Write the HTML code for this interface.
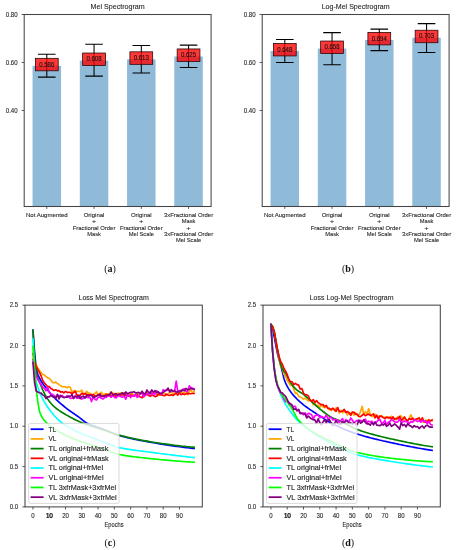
<!DOCTYPE html>
<html><head><meta charset="utf-8"><style>
html,body{margin:0;padding:0;background:#fff;width:456px;height:550px;overflow:hidden}
svg{display:block;filter:blur(0.4px)}
</style></head><body>
<svg width="456" height="550" viewBox="0 0 456 550">
<rect width="456" height="550" fill="#fff"/>
<text x="117.65" y="8.90" font-size="7.2" text-anchor="middle" fill="#262626" font-family='"Liberation Sans", sans-serif' font-weight="normal" textLength="54.28" lengthAdjust="spacingAndGlyphs" stroke="#262626" stroke-width="0.1">Mel Spectrogram</text>
<rect x="32.55" y="65.86" width="28.50" height="140.64" fill="#8fbbd9"/>
<rect x="79.80" y="60.58" width="28.50" height="145.92" fill="#8fbbd9"/>
<rect x="127.05" y="59.38" width="28.50" height="147.12" fill="#8fbbd9"/>
<rect x="174.30" y="56.50" width="28.50" height="150.00" fill="#8fbbd9"/>
<path d="M46.80 54.20V77.10M38.00 54.20H55.60M38.00 77.10H55.60" stroke="#000" stroke-width="1.05" fill="none"/>
<path d="M94.05 44.30V76.10M85.25 44.30H102.85M85.25 76.10H102.85" stroke="#000" stroke-width="1.05" fill="none"/>
<path d="M141.30 45.50V72.90M132.50 45.50H150.10M132.50 72.90H150.10" stroke="#000" stroke-width="1.05" fill="none"/>
<path d="M188.55 45.10V67.40M179.75 45.10H197.35M179.75 67.40H197.35" stroke="#000" stroke-width="1.05" fill="none"/>
<rect x="35.40" y="58.31" width="22.8" height="12.5" fill="#ff0000" fill-opacity="0.78" stroke="#200" stroke-width="0.75"/>
<text x="46.80" y="66.56" font-size="6.5" text-anchor="middle" fill="#111" font-family='"Liberation Sans", sans-serif' font-weight="normal" textLength="15.17" lengthAdjust="spacingAndGlyphs" stroke="#111" stroke-width="0.1">0.586</text>
<rect x="82.65" y="53.03" width="22.8" height="12.5" fill="#ff0000" fill-opacity="0.78" stroke="#200" stroke-width="0.75"/>
<text x="94.05" y="61.28" font-size="6.5" text-anchor="middle" fill="#111" font-family='"Liberation Sans", sans-serif' font-weight="normal" textLength="15.17" lengthAdjust="spacingAndGlyphs" stroke="#111" stroke-width="0.1">0.608</text>
<rect x="129.90" y="51.83" width="22.8" height="12.5" fill="#ff0000" fill-opacity="0.78" stroke="#200" stroke-width="0.75"/>
<text x="141.30" y="60.08" font-size="6.5" text-anchor="middle" fill="#111" font-family='"Liberation Sans", sans-serif' font-weight="normal" textLength="15.17" lengthAdjust="spacingAndGlyphs" stroke="#111" stroke-width="0.1">0.613</text>
<rect x="177.15" y="48.95" width="22.8" height="12.5" fill="#ff0000" fill-opacity="0.78" stroke="#200" stroke-width="0.75"/>
<text x="188.55" y="57.20" font-size="6.5" text-anchor="middle" fill="#111" font-family='"Liberation Sans", sans-serif' font-weight="normal" textLength="15.17" lengthAdjust="spacingAndGlyphs" stroke="#111" stroke-width="0.1">0.625</text>
<rect x="24.2" y="14.5" width="186.9" height="192.0" fill="none" stroke="#454545" stroke-width="1.05"/>
<path d="M21.60 14.50H24.20" stroke="#454545" stroke-width="0.9"/>
<text x="17.60" y="16.55" font-size="6.5" text-anchor="end" fill="#262626" font-family='"Liberation Sans", sans-serif' font-weight="normal" textLength="11.8" lengthAdjust="spacingAndGlyphs" stroke="#262626" stroke-width="0.1">0.80</text>
<path d="M21.60 62.50H24.20" stroke="#454545" stroke-width="0.9"/>
<text x="17.60" y="64.55" font-size="6.5" text-anchor="end" fill="#262626" font-family='"Liberation Sans", sans-serif' font-weight="normal" textLength="11.8" lengthAdjust="spacingAndGlyphs" stroke="#262626" stroke-width="0.1">0.60</text>
<path d="M21.60 110.50H24.20" stroke="#454545" stroke-width="0.9"/>
<text x="17.60" y="112.55" font-size="6.5" text-anchor="end" fill="#262626" font-family='"Liberation Sans", sans-serif' font-weight="normal" textLength="11.8" lengthAdjust="spacingAndGlyphs" stroke="#262626" stroke-width="0.1">0.40</text>
<path d="M46.80 206.50V208.90" stroke="#454545" stroke-width="0.9"/>
<text x="46.80" y="217.40" font-size="6.1" text-anchor="middle" fill="#262626" font-family='"Liberation Sans", sans-serif' font-weight="normal" textLength="41.81" lengthAdjust="spacingAndGlyphs" stroke="#262626" stroke-width="0.1">Not Augmented</text>
<path d="M94.05 206.50V208.90" stroke="#454545" stroke-width="0.9"/>
<text x="94.05" y="217.40" font-size="6.1" text-anchor="middle" fill="#262626" font-family='"Liberation Sans", sans-serif' font-weight="normal" textLength="20.74" lengthAdjust="spacingAndGlyphs" stroke="#262626" stroke-width="0.1">Original</text>
<text x="94.05" y="223.45" font-size="6.1" text-anchor="middle" fill="#262626" font-family='"Liberation Sans", sans-serif' font-weight="normal" textLength="4.44" lengthAdjust="spacingAndGlyphs" stroke="#262626" stroke-width="0.1">+</text>
<text x="94.05" y="229.50" font-size="6.1" text-anchor="middle" fill="#262626" font-family='"Liberation Sans", sans-serif' font-weight="normal" textLength="42.62" lengthAdjust="spacingAndGlyphs" stroke="#262626" stroke-width="0.1">Fractional Order</text>
<text x="94.05" y="235.55" font-size="6.1" text-anchor="middle" fill="#262626" font-family='"Liberation Sans", sans-serif' font-weight="normal" textLength="13.65" lengthAdjust="spacingAndGlyphs" stroke="#262626" stroke-width="0.1">Mask</text>
<path d="M141.30 206.50V208.90" stroke="#454545" stroke-width="0.9"/>
<text x="141.30" y="217.40" font-size="6.1" text-anchor="middle" fill="#262626" font-family='"Liberation Sans", sans-serif' font-weight="normal" textLength="20.74" lengthAdjust="spacingAndGlyphs" stroke="#262626" stroke-width="0.1">Original</text>
<text x="141.30" y="223.45" font-size="6.1" text-anchor="middle" fill="#262626" font-family='"Liberation Sans", sans-serif' font-weight="normal" textLength="4.44" lengthAdjust="spacingAndGlyphs" stroke="#262626" stroke-width="0.1">+</text>
<text x="141.30" y="229.50" font-size="6.1" text-anchor="middle" fill="#262626" font-family='"Liberation Sans", sans-serif' font-weight="normal" textLength="42.62" lengthAdjust="spacingAndGlyphs" stroke="#262626" stroke-width="0.1">Fractional Order</text>
<text x="141.30" y="235.55" font-size="6.1" text-anchor="middle" fill="#262626" font-family='"Liberation Sans", sans-serif' font-weight="normal" textLength="25.25" lengthAdjust="spacingAndGlyphs" stroke="#262626" stroke-width="0.1">Mel Scale</text>
<path d="M188.55 206.50V208.90" stroke="#454545" stroke-width="0.9"/>
<text x="188.55" y="217.40" font-size="6.1" text-anchor="middle" fill="#262626" font-family='"Liberation Sans", sans-serif' font-weight="normal" textLength="49.13" lengthAdjust="spacingAndGlyphs" stroke="#262626" stroke-width="0.1">3xFractional Order</text>
<text x="188.55" y="223.45" font-size="6.1" text-anchor="middle" fill="#262626" font-family='"Liberation Sans", sans-serif' font-weight="normal" textLength="13.65" lengthAdjust="spacingAndGlyphs" stroke="#262626" stroke-width="0.1">Mask</text>
<text x="188.55" y="229.50" font-size="6.1" text-anchor="middle" fill="#262626" font-family='"Liberation Sans", sans-serif' font-weight="normal" textLength="4.44" lengthAdjust="spacingAndGlyphs" stroke="#262626" stroke-width="0.1">+</text>
<text x="188.55" y="235.55" font-size="6.1" text-anchor="middle" fill="#262626" font-family='"Liberation Sans", sans-serif' font-weight="normal" textLength="49.13" lengthAdjust="spacingAndGlyphs" stroke="#262626" stroke-width="0.1">3xFractional Order</text>
<text x="188.55" y="241.60" font-size="6.1" text-anchor="middle" fill="#262626" font-family='"Liberation Sans", sans-serif' font-weight="normal" textLength="25.25" lengthAdjust="spacingAndGlyphs" stroke="#262626" stroke-width="0.1">Mel Scale</text>
<text x="355.65" y="8.90" font-size="7.2" text-anchor="middle" fill="#262626" font-family='"Liberation Sans", sans-serif' font-weight="normal" textLength="67.93" lengthAdjust="spacingAndGlyphs" stroke="#262626" stroke-width="0.1">Log-Mel Spectrogram</text>
<rect x="270.55" y="50.98" width="28.50" height="155.52" fill="#8fbbd9"/>
<rect x="317.80" y="48.58" width="28.50" height="157.92" fill="#8fbbd9"/>
<rect x="365.05" y="39.94" width="28.50" height="166.56" fill="#8fbbd9"/>
<rect x="412.30" y="37.78" width="28.50" height="168.72" fill="#8fbbd9"/>
<path d="M284.80 39.50V62.50M276.00 39.50H293.60M276.00 62.50H293.60" stroke="#000" stroke-width="1.05" fill="none"/>
<path d="M332.05 32.60V64.80M323.25 32.60H340.85M323.25 64.80H340.85" stroke="#000" stroke-width="1.05" fill="none"/>
<path d="M379.30 29.10V50.60M370.50 29.10H388.10M370.50 50.60H388.10" stroke="#000" stroke-width="1.05" fill="none"/>
<path d="M426.55 23.60V52.40M417.75 23.60H435.35M417.75 52.40H435.35" stroke="#000" stroke-width="1.05" fill="none"/>
<rect x="273.40" y="43.43" width="22.8" height="12.5" fill="#ff0000" fill-opacity="0.78" stroke="#200" stroke-width="0.75"/>
<text x="284.80" y="51.68" font-size="6.5" text-anchor="middle" fill="#111" font-family='"Liberation Sans", sans-serif' font-weight="normal" textLength="15.17" lengthAdjust="spacingAndGlyphs" stroke="#111" stroke-width="0.1">0.648</text>
<rect x="320.65" y="41.03" width="22.8" height="12.5" fill="#ff0000" fill-opacity="0.78" stroke="#200" stroke-width="0.75"/>
<text x="332.05" y="49.28" font-size="6.5" text-anchor="middle" fill="#111" font-family='"Liberation Sans", sans-serif' font-weight="normal" textLength="15.17" lengthAdjust="spacingAndGlyphs" stroke="#111" stroke-width="0.1">0.658</text>
<rect x="367.90" y="32.39" width="22.8" height="12.5" fill="#ff0000" fill-opacity="0.78" stroke="#200" stroke-width="0.75"/>
<text x="379.30" y="40.64" font-size="6.5" text-anchor="middle" fill="#111" font-family='"Liberation Sans", sans-serif' font-weight="normal" textLength="15.17" lengthAdjust="spacingAndGlyphs" stroke="#111" stroke-width="0.1">0.694</text>
<rect x="415.15" y="30.23" width="22.8" height="12.5" fill="#ff0000" fill-opacity="0.78" stroke="#200" stroke-width="0.75"/>
<text x="426.55" y="38.48" font-size="6.5" text-anchor="middle" fill="#111" font-family='"Liberation Sans", sans-serif' font-weight="normal" textLength="15.17" lengthAdjust="spacingAndGlyphs" stroke="#111" stroke-width="0.1">0.703</text>
<rect x="262.2" y="14.5" width="186.90000000000003" height="192.0" fill="none" stroke="#454545" stroke-width="1.05"/>
<path d="M259.60 14.50H262.20" stroke="#454545" stroke-width="0.9"/>
<text x="255.60" y="16.55" font-size="6.5" text-anchor="end" fill="#262626" font-family='"Liberation Sans", sans-serif' font-weight="normal" textLength="11.8" lengthAdjust="spacingAndGlyphs" stroke="#262626" stroke-width="0.1">0.80</text>
<path d="M259.60 62.50H262.20" stroke="#454545" stroke-width="0.9"/>
<text x="255.60" y="64.55" font-size="6.5" text-anchor="end" fill="#262626" font-family='"Liberation Sans", sans-serif' font-weight="normal" textLength="11.8" lengthAdjust="spacingAndGlyphs" stroke="#262626" stroke-width="0.1">0.60</text>
<path d="M259.60 110.50H262.20" stroke="#454545" stroke-width="0.9"/>
<text x="255.60" y="112.55" font-size="6.5" text-anchor="end" fill="#262626" font-family='"Liberation Sans", sans-serif' font-weight="normal" textLength="11.8" lengthAdjust="spacingAndGlyphs" stroke="#262626" stroke-width="0.1">0.40</text>
<path d="M284.80 206.50V208.90" stroke="#454545" stroke-width="0.9"/>
<text x="284.80" y="217.40" font-size="6.1" text-anchor="middle" fill="#262626" font-family='"Liberation Sans", sans-serif' font-weight="normal" textLength="41.81" lengthAdjust="spacingAndGlyphs" stroke="#262626" stroke-width="0.1">Not Augmented</text>
<path d="M332.05 206.50V208.90" stroke="#454545" stroke-width="0.9"/>
<text x="332.05" y="217.40" font-size="6.1" text-anchor="middle" fill="#262626" font-family='"Liberation Sans", sans-serif' font-weight="normal" textLength="20.74" lengthAdjust="spacingAndGlyphs" stroke="#262626" stroke-width="0.1">Original</text>
<text x="332.05" y="223.45" font-size="6.1" text-anchor="middle" fill="#262626" font-family='"Liberation Sans", sans-serif' font-weight="normal" textLength="4.44" lengthAdjust="spacingAndGlyphs" stroke="#262626" stroke-width="0.1">+</text>
<text x="332.05" y="229.50" font-size="6.1" text-anchor="middle" fill="#262626" font-family='"Liberation Sans", sans-serif' font-weight="normal" textLength="42.62" lengthAdjust="spacingAndGlyphs" stroke="#262626" stroke-width="0.1">Fractional Order</text>
<text x="332.05" y="235.55" font-size="6.1" text-anchor="middle" fill="#262626" font-family='"Liberation Sans", sans-serif' font-weight="normal" textLength="13.65" lengthAdjust="spacingAndGlyphs" stroke="#262626" stroke-width="0.1">Mask</text>
<path d="M379.30 206.50V208.90" stroke="#454545" stroke-width="0.9"/>
<text x="379.30" y="217.40" font-size="6.1" text-anchor="middle" fill="#262626" font-family='"Liberation Sans", sans-serif' font-weight="normal" textLength="20.74" lengthAdjust="spacingAndGlyphs" stroke="#262626" stroke-width="0.1">Original</text>
<text x="379.30" y="223.45" font-size="6.1" text-anchor="middle" fill="#262626" font-family='"Liberation Sans", sans-serif' font-weight="normal" textLength="4.44" lengthAdjust="spacingAndGlyphs" stroke="#262626" stroke-width="0.1">+</text>
<text x="379.30" y="229.50" font-size="6.1" text-anchor="middle" fill="#262626" font-family='"Liberation Sans", sans-serif' font-weight="normal" textLength="42.62" lengthAdjust="spacingAndGlyphs" stroke="#262626" stroke-width="0.1">Fractional Order</text>
<text x="379.30" y="235.55" font-size="6.1" text-anchor="middle" fill="#262626" font-family='"Liberation Sans", sans-serif' font-weight="normal" textLength="25.25" lengthAdjust="spacingAndGlyphs" stroke="#262626" stroke-width="0.1">Mel Scale</text>
<path d="M426.55 206.50V208.90" stroke="#454545" stroke-width="0.9"/>
<text x="426.55" y="217.40" font-size="6.1" text-anchor="middle" fill="#262626" font-family='"Liberation Sans", sans-serif' font-weight="normal" textLength="49.13" lengthAdjust="spacingAndGlyphs" stroke="#262626" stroke-width="0.1">3xFractional Order</text>
<text x="426.55" y="223.45" font-size="6.1" text-anchor="middle" fill="#262626" font-family='"Liberation Sans", sans-serif' font-weight="normal" textLength="13.65" lengthAdjust="spacingAndGlyphs" stroke="#262626" stroke-width="0.1">Mask</text>
<text x="426.55" y="229.50" font-size="6.1" text-anchor="middle" fill="#262626" font-family='"Liberation Sans", sans-serif' font-weight="normal" textLength="4.44" lengthAdjust="spacingAndGlyphs" stroke="#262626" stroke-width="0.1">+</text>
<text x="426.55" y="235.55" font-size="6.1" text-anchor="middle" fill="#262626" font-family='"Liberation Sans", sans-serif' font-weight="normal" textLength="49.13" lengthAdjust="spacingAndGlyphs" stroke="#262626" stroke-width="0.1">3xFractional Order</text>
<text x="426.55" y="241.60" font-size="6.1" text-anchor="middle" fill="#262626" font-family='"Liberation Sans", sans-serif' font-weight="normal" textLength="25.25" lengthAdjust="spacingAndGlyphs" stroke="#262626" stroke-width="0.1">Mel Scale</text>
<text x="113.65" y="299.60" font-size="7.2" text-anchor="middle" fill="#262626" font-family='"Liberation Sans", sans-serif' font-weight="normal" textLength="70.25" lengthAdjust="spacingAndGlyphs" stroke="#262626" stroke-width="0.1">Loss Mel Spectrogram</text>
<clipPath id="clip0"><rect x="25.0" y="305.15" width="177.3" height="201.75"/></clipPath>
<g clip-path="url(#clip0)">
<path d="M32.95 330.17 L34.58 351.96 L36.21 368.90 L37.83 374.29 L39.46 377.98 L41.09 381.01 L42.72 383.53 L44.35 385.75 L45.97 387.84 L47.60 389.93 L49.23 391.99 L50.86 393.97 L52.49 395.81 L54.11 397.50 L55.74 399.11 L57.37 400.64 L59.00 402.11 L60.63 403.53 L62.25 404.91 L63.88 406.25 L65.51 407.56 L67.14 408.84 L68.77 410.07 L70.39 411.25 L72.02 412.39 L73.65 413.52 L75.28 414.64 L76.91 415.78 L78.53 416.93 L80.16 418.14 L81.79 419.46 L83.42 420.79 L85.05 421.98 L86.67 422.92 L88.30 423.73 L89.93 424.47 L91.56 425.15 L93.19 425.79 L94.81 426.39 L96.44 426.96 L98.07 427.52 L99.70 428.07 L101.33 428.64 L102.95 429.22 L104.58 429.83 L106.21 430.48 L107.84 431.15 L109.47 431.83 L111.09 432.51 L112.72 433.17 L114.35 433.81 L115.98 434.42 L117.61 434.98 L119.23 435.48 L120.86 435.94 L122.49 436.38 L124.12 436.81 L125.75 437.22 L127.37 437.62 L129.00 438.01 L130.63 438.38 L132.26 438.74 L133.89 439.09 L135.51 439.43 L137.14 439.77 L138.77 440.09 L140.40 440.40 L142.03 440.71 L143.65 441.02 L145.28 441.31 L146.91 441.60 L148.54 441.89 L150.17 442.18 L151.79 442.46 L153.42 442.74 L155.05 443.02 L156.68 443.29 L158.31 443.57 L159.93 443.83 L161.56 444.10 L163.19 444.36 L164.82 444.62 L166.45 444.88 L168.07 445.13 L169.70 445.37 L171.33 445.61 L172.96 445.85 L174.59 446.09 L176.21 446.31 L177.84 446.54 L179.47 446.76 L181.10 446.97 L182.73 447.18 L184.35 447.38 L185.98 447.58 L187.61 447.77 L189.24 447.95 L190.87 448.13 L192.49 448.31 L194.12 448.47" stroke="#0000ff" stroke-width="1.65" fill="none" stroke-linejoin="round" stroke-linecap="square"/>
<path d="M32.95 358.41 L34.58 361.77 L36.21 364.87 L37.83 367.85 L39.46 370.38 L41.09 372.40 L42.72 374.44 L44.35 375.07 L45.97 376.49 L47.60 377.83 L49.23 378.47 L50.86 380.02 L52.49 382.54 L54.11 382.81 L55.74 382.02 L57.37 383.40 L59.00 384.65 L60.63 385.60 L62.25 386.70 L63.88 386.64 L65.51 386.88 L67.14 387.78 L68.77 386.61 L70.39 387.55 L72.02 392.38 L73.65 390.59 L75.28 390.70 L76.91 391.51 L78.53 391.26 L80.16 391.71 L81.79 390.03 L83.42 394.13 L85.05 393.71 L86.67 391.31 L88.30 393.11 L89.93 393.17 L91.56 394.50 L93.19 395.78 L94.81 393.73 L96.44 391.71 L98.07 395.31 L99.70 394.69 L101.33 392.23 L102.95 394.99 L104.58 394.03 L106.21 393.81 L107.84 393.88 L109.47 394.49 L111.09 391.79 L112.72 392.91 L114.35 393.56 L115.98 394.84 L117.61 393.09 L119.23 393.79 L120.86 392.93 L122.49 395.13 L124.12 392.89 L125.75 393.94 L127.37 395.33 L129.00 394.27 L130.63 393.86 L132.26 393.61 L133.89 395.03 L135.51 395.17 L137.14 393.69 L138.77 394.45 L140.40 393.65 L142.03 393.06 L143.65 395.78 L145.28 393.63 L146.91 392.54 L148.54 394.25 L150.17 394.82 L151.79 393.04 L153.42 393.57 L155.05 390.92 L156.68 394.17 L158.31 395.41 L159.93 393.81 L161.56 394.13 L163.19 392.68 L164.82 393.27 L166.45 395.25 L168.07 394.07 L169.70 392.25 L171.33 392.38 L172.96 393.78 L174.59 392.96 L176.21 392.35 L177.84 392.21 L179.47 391.64 L181.10 392.23 L182.73 392.51 L184.35 392.39 L185.98 390.96 L187.61 394.57 L189.24 392.05 L190.87 389.40 L192.49 393.24 L194.12 391.12" stroke="#ffa500" stroke-width="1.65" fill="none" stroke-linejoin="round" stroke-linecap="square"/>
<path d="M32.95 330.17 L34.58 357.30 L36.21 372.12 L37.83 378.16 L39.46 382.17 L41.09 385.85 L42.72 389.83 L44.35 393.39 L45.97 396.31 L47.60 398.88 L49.23 401.21 L50.86 403.27 L52.49 405.06 L54.11 406.60 L55.74 407.98 L57.37 409.24 L59.00 410.40 L60.63 411.48 L62.25 412.49 L63.88 413.47 L65.51 414.43 L67.14 415.38 L68.77 416.30 L70.39 417.21 L72.02 418.08 L73.65 418.93 L75.28 419.74 L76.91 420.53 L78.53 421.28 L80.16 422.00 L81.79 422.68 L83.42 423.32 L85.05 423.94 L86.67 424.52 L88.30 425.09 L89.93 425.63 L91.56 426.15 L93.19 426.67 L94.81 427.17 L96.44 427.67 L98.07 428.17 L99.70 428.67 L101.33 429.18 L102.95 429.70 L104.58 430.24 L106.21 430.79 L107.84 431.36 L109.47 431.95 L111.09 432.53 L112.72 433.10 L114.35 433.66 L115.98 434.20 L117.61 434.70 L119.23 435.16 L120.86 435.59 L122.49 436.01 L124.12 436.41 L125.75 436.81 L127.37 437.20 L129.00 437.58 L130.63 437.95 L132.26 438.31 L133.89 438.66 L135.51 439.01 L137.14 439.34 L138.77 439.66 L140.40 439.98 L142.03 440.29 L143.65 440.58 L145.28 440.87 L146.91 441.16 L148.54 441.43 L150.17 441.69 L151.79 441.95 L153.42 442.21 L155.05 442.47 L156.68 442.72 L158.31 442.97 L159.93 443.22 L161.56 443.46 L163.19 443.70 L164.82 443.93 L166.45 444.17 L168.07 444.39 L169.70 444.61 L171.33 444.83 L172.96 445.04 L174.59 445.25 L176.21 445.45 L177.84 445.65 L179.47 445.84 L181.10 446.03 L182.73 446.20 L184.35 446.38 L185.98 446.54 L187.61 446.70 L189.24 446.85 L190.87 447.00 L192.49 447.13 L194.12 447.26" stroke="#008000" stroke-width="1.65" fill="none" stroke-linejoin="round" stroke-linecap="square"/>
<path d="M32.95 353.57 L34.58 361.84 L36.21 366.26 L37.83 369.43 L39.46 372.44 L41.09 375.80 L42.72 380.51 L44.35 382.72 L45.97 384.72 L47.60 386.86 L49.23 386.46 L50.86 388.59 L52.49 389.35 L54.11 390.45 L55.74 389.81 L57.37 390.84 L59.00 390.63 L60.63 392.09 L62.25 391.67 L63.88 392.91 L65.51 391.47 L67.14 392.31 L68.77 392.37 L70.39 392.47 L72.02 394.02 L73.65 392.45 L75.28 391.38 L76.91 395.13 L78.53 395.40 L80.16 395.38 L81.79 393.33 L83.42 394.28 L85.05 393.61 L86.67 394.18 L88.30 394.85 L89.93 394.86 L91.56 395.32 L93.19 394.34 L94.81 396.30 L96.44 395.64 L98.07 395.02 L99.70 393.53 L101.33 396.04 L102.95 396.36 L104.58 395.88 L106.21 394.41 L107.84 395.60 L109.47 394.10 L111.09 397.21 L112.72 394.32 L114.35 394.42 L115.98 396.81 L117.61 395.30 L119.23 394.28 L120.86 395.38 L122.49 394.51 L124.12 393.18 L125.75 395.23 L127.37 395.77 L129.00 396.25 L130.63 394.88 L132.26 395.71 L133.89 395.69 L135.51 395.62 L137.14 394.90 L138.77 396.56 L140.40 397.01 L142.03 397.89 L143.65 394.37 L145.28 395.46 L146.91 394.07 L148.54 395.54 L150.17 396.23 L151.79 395.03 L153.42 395.53 L155.05 396.63 L156.68 396.22 L158.31 393.60 L159.93 394.90 L161.56 394.78 L163.19 395.38 L164.82 395.71 L166.45 394.10 L168.07 394.99 L169.70 395.54 L171.33 394.86 L172.96 395.52 L174.59 394.36 L176.21 393.34 L177.84 395.13 L179.47 392.81 L181.10 394.70 L182.73 393.76 L184.35 394.57 L185.98 393.81 L187.61 393.38 L189.24 393.68 L190.87 393.76 L192.49 393.55 L194.12 393.50" stroke="#ff0000" stroke-width="1.65" fill="none" stroke-linejoin="round" stroke-linecap="square"/>
<path d="M32.95 339.04 L34.58 372.94 L36.21 382.10 L37.83 387.29 L39.46 391.71 L41.09 395.58 L42.72 398.92 L44.35 401.84 L45.97 404.47 L47.60 406.93 L49.23 409.26 L50.86 411.47 L52.49 413.54 L54.11 415.47 L55.74 417.26 L57.37 418.91 L59.00 420.40 L60.63 421.75 L62.25 422.99 L63.88 424.15 L65.51 425.23 L67.14 426.26 L68.77 427.22 L70.39 428.14 L72.02 429.01 L73.65 429.85 L75.28 430.67 L76.91 431.46 L78.53 432.24 L80.16 432.99 L81.79 433.71 L83.42 434.41 L85.05 435.08 L86.67 435.74 L88.30 436.37 L89.93 437.00 L91.56 437.61 L93.19 438.21 L94.81 438.80 L96.44 439.39 L98.07 439.97 L99.70 440.56 L101.33 441.15 L102.95 441.74 L104.58 442.34 L106.21 442.96 L107.84 443.61 L109.47 444.27 L111.09 444.92 L112.72 445.55 L114.35 446.15 L115.98 446.70 L117.61 447.18 L119.23 447.59 L120.86 447.93 L122.49 448.26 L124.12 448.57 L125.75 448.86 L127.37 449.14 L129.00 449.40 L130.63 449.64 L132.26 449.88 L133.89 450.11 L135.51 450.32 L137.14 450.54 L138.77 450.74 L140.40 450.95 L142.03 451.15 L143.65 451.35 L145.28 451.55 L146.91 451.76 L148.54 451.97 L150.17 452.19 L151.79 452.41 L153.42 452.62 L155.05 452.84 L156.68 453.06 L158.31 453.27 L159.93 453.49 L161.56 453.70 L163.19 453.91 L164.82 454.12 L166.45 454.33 L168.07 454.53 L169.70 454.74 L171.33 454.94 L172.96 455.14 L174.59 455.34 L176.21 455.54 L177.84 455.73 L179.47 455.93 L181.10 456.12 L182.73 456.31 L184.35 456.50 L185.98 456.69 L187.61 456.87 L189.24 457.06 L190.87 457.24 L192.49 457.42 L194.12 457.59" stroke="#00ffff" stroke-width="1.65" fill="none" stroke-linejoin="round" stroke-linecap="square"/>
<path d="M32.95 360.03 L34.58 369.58 L36.21 376.17 L37.83 379.58 L39.46 382.18 L41.09 384.18 L42.72 387.36 L44.35 388.28 L45.97 390.86 L47.60 387.09 L49.23 392.18 L50.86 393.87 L52.49 394.53 L54.11 395.59 L55.74 396.53 L57.37 396.09 L59.00 395.36 L60.63 396.66 L62.25 395.46 L63.88 397.27 L65.51 397.25 L67.14 395.52 L68.77 397.00 L70.39 398.49 L72.02 398.16 L73.65 397.26 L75.28 395.46 L76.91 398.30 L78.53 398.27 L80.16 396.66 L81.79 399.10 L83.42 398.33 L85.05 396.82 L86.67 397.21 L88.30 397.84 L89.93 397.09 L91.56 401.60 L93.19 396.61 L94.81 399.15 L96.44 400.02 L98.07 397.47 L99.70 396.86 L101.33 398.28 L102.95 399.02 L104.58 397.52 L106.21 397.53 L107.84 395.55 L109.47 396.30 L111.09 396.90 L112.72 395.60 L114.35 397.18 L115.98 397.99 L117.61 395.91 L119.23 395.78 L120.86 396.67 L122.49 397.26 L124.12 395.80 L125.75 399.17 L127.37 394.91 L129.00 395.01 L130.63 397.60 L132.26 395.25 L133.89 396.42 L135.51 394.04 L137.14 397.48 L138.77 395.88 L140.40 393.62 L142.03 392.89 L143.65 397.01 L145.28 394.71 L146.91 393.50 L148.54 394.55 L150.17 391.53 L151.79 394.93 L153.42 392.73 L155.05 394.33 L156.68 390.94 L158.31 392.55 L159.93 392.77 L161.56 394.28 L163.19 389.65 L164.82 390.62 L166.45 390.38 L168.07 389.66 L169.70 390.46 L171.33 391.53 L172.96 391.54 L174.59 391.36 L176.21 381.01 L177.84 391.90 L179.47 390.66 L181.10 390.18 L182.73 389.37 L184.35 388.81 L185.98 391.07 L187.61 391.60 L189.24 385.85 L190.87 387.64 L192.49 388.16 L194.12 388.80" stroke="#ff00ff" stroke-width="1.65" fill="none" stroke-linejoin="round" stroke-linecap="square"/>
<path d="M32.95 346.31 L34.58 370.65 L36.21 389.03 L37.83 401.99 L39.46 411.42 L41.09 415.44 L42.72 418.29 L44.35 420.44 L45.97 422.14 L47.60 423.63 L49.23 425.07 L50.86 426.41 L52.49 427.65 L54.11 428.81 L55.74 429.89 L57.37 430.90 L59.00 431.85 L60.63 432.74 L62.25 433.59 L63.88 434.40 L65.51 435.18 L67.14 435.94 L68.77 436.69 L70.39 437.42 L72.02 438.12 L73.65 438.78 L75.28 439.43 L76.91 440.05 L78.53 440.65 L80.16 441.23 L81.79 441.79 L83.42 442.34 L85.05 442.88 L86.67 443.40 L88.30 443.92 L89.93 444.44 L91.56 444.95 L93.19 445.46 L94.81 445.97 L96.44 446.49 L98.07 447.01 L99.70 447.54 L101.33 448.08 L102.95 448.63 L104.58 449.20 L106.21 449.80 L107.84 450.44 L109.47 451.11 L111.09 451.77 L112.72 452.41 L114.35 453.02 L115.98 453.58 L117.61 454.06 L119.23 454.44 L120.86 454.77 L122.49 455.08 L124.12 455.36 L125.75 455.64 L127.37 455.89 L129.00 456.14 L130.63 456.37 L132.26 456.59 L133.89 456.80 L135.51 457.00 L137.14 457.19 L138.77 457.37 L140.40 457.55 L142.03 457.72 L143.65 457.89 L145.28 458.06 L146.91 458.23 L148.54 458.39 L150.17 458.56 L151.79 458.73 L153.42 458.89 L155.05 459.06 L156.68 459.22 L158.31 459.38 L159.93 459.54 L161.56 459.70 L163.19 459.85 L164.82 460.00 L166.45 460.15 L168.07 460.30 L169.70 460.44 L171.33 460.58 L172.96 460.72 L174.59 460.86 L176.21 460.99 L177.84 461.12 L179.47 461.24 L181.10 461.36 L182.73 461.48 L184.35 461.60 L185.98 461.71 L187.61 461.81 L189.24 461.91 L190.87 462.01 L192.49 462.10 L194.12 462.19" stroke="#00ff00" stroke-width="1.65" fill="none" stroke-linejoin="round" stroke-linecap="square"/>
<path d="M32.95 362.45 L34.58 382.69 L36.21 390.99 L37.83 391.93 L39.46 392.76 L41.09 393.11 L42.72 394.81 L44.35 395.94 L45.97 398.59 L47.60 396.87 L49.23 396.86 L50.86 395.31 L52.49 396.69 L54.11 396.42 L55.74 398.62 L57.37 394.32 L59.00 398.96 L60.63 395.47 L62.25 397.02 L63.88 397.57 L65.51 397.26 L67.14 397.22 L68.77 395.98 L70.39 396.50 L72.02 394.67 L73.65 398.41 L75.28 396.34 L76.91 397.35 L78.53 395.46 L80.16 398.73 L81.79 396.73 L83.42 396.10 L85.05 398.02 L86.67 395.23 L88.30 396.14 L89.93 395.20 L91.56 395.24 L93.19 397.38 L94.81 397.09 L96.44 396.31 L98.07 395.11 L99.70 394.84 L101.33 396.44 L102.95 396.14 L104.58 396.17 L106.21 395.74 L107.84 395.16 L109.47 394.85 L111.09 392.19 L112.72 394.92 L114.35 394.51 L115.98 393.52 L117.61 395.00 L119.23 394.23 L120.86 393.69 L122.49 392.74 L124.12 395.00 L125.75 391.88 L127.37 393.74 L129.00 393.06 L130.63 392.21 L132.26 392.34 L133.89 391.81 L135.51 392.73 L137.14 392.86 L138.77 392.40 L140.40 393.80 L142.03 391.21 L143.65 393.37 L145.28 393.83 L146.91 389.98 L148.54 392.36 L150.17 393.43 L151.79 389.90 L153.42 392.26 L155.05 390.58 L156.68 392.60 L158.31 391.83 L159.93 393.35 L161.56 393.48 L163.19 392.32 L164.82 391.19 L166.45 390.10 L168.07 388.15 L169.70 391.96 L171.33 389.55 L172.96 391.28 L174.59 390.68 L176.21 392.08 L177.84 391.99 L179.47 391.11 L181.10 391.49 L182.73 390.06 L184.35 390.76 L185.98 388.47 L187.61 389.63 L189.24 389.53 L190.87 388.35 L192.49 388.97 L194.12 389.52" stroke="#800080" stroke-width="1.65" fill="none" stroke-linejoin="round" stroke-linecap="square"/>
</g>
<rect x="28.6" y="423.4" width="90.4" height="80.0" rx="1.8" fill="#fff" fill-opacity="0.8" stroke="#d0d0d0" stroke-width="0.8"/>
<path d="M30.60 429.20H43.60" stroke="#0000ff" stroke-width="1.75"/>
<text x="48.50" y="431.65" font-size="7.5" text-anchor="start" fill="#262626" font-family='"Liberation Sans", sans-serif' font-weight="normal" textLength="7.43" lengthAdjust="spacingAndGlyphs" stroke="#262626" stroke-width="0.14">TL</text>
<path d="M30.60 438.91H43.60" stroke="#ffa500" stroke-width="1.75"/>
<text x="48.50" y="441.36" font-size="7.5" text-anchor="start" fill="#262626" font-family='"Liberation Sans", sans-serif' font-weight="normal" textLength="7.89" lengthAdjust="spacingAndGlyphs" stroke="#262626" stroke-width="0.14">VL</text>
<path d="M30.60 448.62H43.60" stroke="#008000" stroke-width="1.75"/>
<text x="48.50" y="451.07" font-size="7.5" text-anchor="start" fill="#262626" font-family='"Liberation Sans", sans-serif' font-weight="normal" textLength="59.79" lengthAdjust="spacingAndGlyphs" stroke="#262626" stroke-width="0.14">TL original+frMask</text>
<path d="M30.60 458.33H43.60" stroke="#ff0000" stroke-width="1.75"/>
<text x="48.50" y="460.78" font-size="7.5" text-anchor="start" fill="#262626" font-family='"Liberation Sans", sans-serif' font-weight="normal" textLength="60.25" lengthAdjust="spacingAndGlyphs" stroke="#262626" stroke-width="0.14">VL original+frMask</text>
<path d="M30.60 468.04H43.60" stroke="#00ffff" stroke-width="1.75"/>
<text x="48.50" y="470.49" font-size="7.5" text-anchor="start" fill="#262626" font-family='"Liberation Sans", sans-serif' font-weight="normal" textLength="54.57" lengthAdjust="spacingAndGlyphs" stroke="#262626" stroke-width="0.14">TL original+frMel</text>
<path d="M30.60 477.75H43.60" stroke="#ff00ff" stroke-width="1.75"/>
<text x="48.50" y="480.20" font-size="7.5" text-anchor="start" fill="#262626" font-family='"Liberation Sans", sans-serif' font-weight="normal" textLength="55.04" lengthAdjust="spacingAndGlyphs" stroke="#262626" stroke-width="0.14">VL original+frMel</text>
<path d="M30.60 487.46H43.60" stroke="#00ff00" stroke-width="1.75"/>
<text x="48.50" y="489.91" font-size="7.5" text-anchor="start" fill="#262626" font-family='"Liberation Sans", sans-serif' font-weight="normal" textLength="67.66" lengthAdjust="spacingAndGlyphs" stroke="#262626" stroke-width="0.14">TL 3xfrMask+3xfrMel</text>
<path d="M30.60 497.17H43.60" stroke="#800080" stroke-width="1.75"/>
<text x="48.50" y="499.62" font-size="7.5" text-anchor="start" fill="#262626" font-family='"Liberation Sans", sans-serif' font-weight="normal" textLength="68.12" lengthAdjust="spacingAndGlyphs" stroke="#262626" stroke-width="0.14">VL 3xfrMask+3xfrMel</text>
<rect x="25.0" y="305.15" width="177.3" height="201.75" fill="none" stroke="#454545" stroke-width="1.05"/>
<path d="M22.40 506.90H25.00" stroke="#454545" stroke-width="0.9"/>
<text x="18.10" y="508.90" font-size="6.5" text-anchor="end" fill="#262626" font-family='"Liberation Sans", sans-serif' font-weight="normal" textLength="8.43" lengthAdjust="spacingAndGlyphs" stroke="#262626" stroke-width="0.1">0.0</text>
<path d="M22.40 466.55H25.00" stroke="#454545" stroke-width="0.9"/>
<text x="18.10" y="468.55" font-size="6.5" text-anchor="end" fill="#262626" font-family='"Liberation Sans", sans-serif' font-weight="normal" textLength="8.43" lengthAdjust="spacingAndGlyphs" stroke="#262626" stroke-width="0.1">0.5</text>
<path d="M22.40 426.20H25.00" stroke="#454545" stroke-width="0.9"/>
<text x="18.10" y="428.20" font-size="6.5" text-anchor="end" fill="#262626" font-family='"Liberation Sans", sans-serif' font-weight="normal" textLength="8.43" lengthAdjust="spacingAndGlyphs" stroke="#262626" stroke-width="0.1">1.0</text>
<path d="M22.40 385.85H25.00" stroke="#454545" stroke-width="0.9"/>
<text x="18.10" y="387.85" font-size="6.5" text-anchor="end" fill="#262626" font-family='"Liberation Sans", sans-serif' font-weight="normal" textLength="8.43" lengthAdjust="spacingAndGlyphs" stroke="#262626" stroke-width="0.1">1.5</text>
<path d="M22.40 345.50H25.00" stroke="#454545" stroke-width="0.9"/>
<text x="18.10" y="347.50" font-size="6.5" text-anchor="end" fill="#262626" font-family='"Liberation Sans", sans-serif' font-weight="normal" textLength="8.43" lengthAdjust="spacingAndGlyphs" stroke="#262626" stroke-width="0.1">2.0</text>
<path d="M22.40 305.15H25.00" stroke="#454545" stroke-width="0.9"/>
<text x="18.10" y="307.15" font-size="6.5" text-anchor="end" fill="#262626" font-family='"Liberation Sans", sans-serif' font-weight="normal" textLength="8.43" lengthAdjust="spacingAndGlyphs" stroke="#262626" stroke-width="0.1">2.5</text>
<path d="M32.95 506.90V509.50" stroke="#454545" stroke-width="0.9"/>
<text x="32.95" y="517.60" font-size="6.5" text-anchor="middle" fill="#262626" font-family='"Liberation Sans", sans-serif' font-weight="normal" textLength="3.37" lengthAdjust="spacingAndGlyphs" stroke="#262626" stroke-width="0.1">0</text>
<path d="M49.23 506.90V509.50" stroke="#454545" stroke-width="0.9"/>
<text x="49.23" y="517.60" font-size="6.5" text-anchor="middle" fill="#262626" font-family='"Liberation Sans", sans-serif' font-weight="normal" textLength="6.74" lengthAdjust="spacingAndGlyphs" stroke="#262626" stroke-width="0.1">10</text>
<text x="49.63" y="517.60" font-size="6.5" text-anchor="middle" fill="#262626" font-family='"Liberation Sans", sans-serif' font-weight="normal" textLength="6.74" lengthAdjust="spacingAndGlyphs" stroke="#262626" stroke-width="0.1">10</text>
<path d="M65.51 506.90V509.50" stroke="#454545" stroke-width="0.9"/>
<text x="65.51" y="517.60" font-size="6.5" text-anchor="middle" fill="#262626" font-family='"Liberation Sans", sans-serif' font-weight="normal" textLength="6.74" lengthAdjust="spacingAndGlyphs" stroke="#262626" stroke-width="0.1">20</text>
<path d="M81.79 506.90V509.50" stroke="#454545" stroke-width="0.9"/>
<text x="81.79" y="517.60" font-size="6.5" text-anchor="middle" fill="#262626" font-family='"Liberation Sans", sans-serif' font-weight="normal" textLength="6.74" lengthAdjust="spacingAndGlyphs" stroke="#262626" stroke-width="0.1">30</text>
<path d="M98.07 506.90V509.50" stroke="#454545" stroke-width="0.9"/>
<text x="98.07" y="517.60" font-size="6.5" text-anchor="middle" fill="#262626" font-family='"Liberation Sans", sans-serif' font-weight="normal" textLength="6.74" lengthAdjust="spacingAndGlyphs" stroke="#262626" stroke-width="0.1">40</text>
<path d="M114.35 506.90V509.50" stroke="#454545" stroke-width="0.9"/>
<text x="114.35" y="517.60" font-size="6.5" text-anchor="middle" fill="#262626" font-family='"Liberation Sans", sans-serif' font-weight="normal" textLength="6.74" lengthAdjust="spacingAndGlyphs" stroke="#262626" stroke-width="0.1">50</text>
<path d="M130.63 506.90V509.50" stroke="#454545" stroke-width="0.9"/>
<text x="130.63" y="517.60" font-size="6.5" text-anchor="middle" fill="#262626" font-family='"Liberation Sans", sans-serif' font-weight="normal" textLength="6.74" lengthAdjust="spacingAndGlyphs" stroke="#262626" stroke-width="0.1">60</text>
<path d="M146.91 506.90V509.50" stroke="#454545" stroke-width="0.9"/>
<text x="146.91" y="517.60" font-size="6.5" text-anchor="middle" fill="#262626" font-family='"Liberation Sans", sans-serif' font-weight="normal" textLength="6.74" lengthAdjust="spacingAndGlyphs" stroke="#262626" stroke-width="0.1">70</text>
<path d="M163.19 506.90V509.50" stroke="#454545" stroke-width="0.9"/>
<text x="163.19" y="517.60" font-size="6.5" text-anchor="middle" fill="#262626" font-family='"Liberation Sans", sans-serif' font-weight="normal" textLength="6.74" lengthAdjust="spacingAndGlyphs" stroke="#262626" stroke-width="0.1">80</text>
<path d="M179.47 506.90V509.50" stroke="#454545" stroke-width="0.9"/>
<text x="179.47" y="517.60" font-size="6.5" text-anchor="middle" fill="#262626" font-family='"Liberation Sans", sans-serif' font-weight="normal" textLength="6.74" lengthAdjust="spacingAndGlyphs" stroke="#262626" stroke-width="0.1">90</text>
<text x="114.04" y="527.20" font-size="6.5" text-anchor="middle" fill="#262626" font-family='"Liberation Sans", sans-serif' font-weight="normal" textLength="18.99" lengthAdjust="spacingAndGlyphs" stroke="#262626" stroke-width="0.1">Epochs</text>
<text x="351.65" y="299.60" font-size="7.2" text-anchor="middle" fill="#262626" font-family='"Liberation Sans", sans-serif' font-weight="normal" textLength="83.9" lengthAdjust="spacingAndGlyphs" stroke="#262626" stroke-width="0.1">Loss Log-Mel Spectrogram</text>
<clipPath id="clip238"><rect x="263.0" y="305.15" width="177.3" height="201.75"/></clipPath>
<g clip-path="url(#clip238)">
<path d="M270.95 324.52 L272.58 329.36 L274.21 336.71 L275.83 345.57 L277.46 353.57 L279.09 359.71 L280.72 365.37 L282.35 371.88 L283.97 378.67 L285.60 383.06 L287.23 386.41 L288.86 389.14 L290.49 391.52 L292.11 393.66 L293.74 395.61 L295.37 397.38 L297.00 399.03 L298.63 400.59 L300.25 402.08 L301.88 403.48 L303.51 404.80 L305.14 406.06 L306.77 407.26 L308.39 408.42 L310.02 409.56 L311.65 410.69 L313.28 411.78 L314.91 412.82 L316.53 413.83 L318.16 414.84 L319.79 415.84 L321.42 416.87 L323.05 417.95 L324.67 419.08 L326.30 420.20 L327.93 421.27 L329.56 422.24 L331.19 423.10 L332.81 423.95 L334.44 424.77 L336.07 425.57 L337.70 426.34 L339.33 427.10 L340.95 427.83 L342.58 428.54 L344.21 429.23 L345.84 429.90 L347.47 430.54 L349.09 431.17 L350.72 431.78 L352.35 432.36 L353.98 432.93 L355.61 433.47 L357.23 434.00 L358.86 434.51 L360.49 435.01 L362.12 435.49 L363.75 435.97 L365.37 436.43 L367.00 436.88 L368.63 437.33 L370.26 437.76 L371.89 438.18 L373.51 438.60 L375.14 439.00 L376.77 439.40 L378.40 439.79 L380.03 440.18 L381.65 440.56 L383.28 440.93 L384.91 441.30 L386.54 441.66 L388.17 442.02 L389.79 442.37 L391.42 442.72 L393.05 443.07 L394.68 443.41 L396.31 443.76 L397.93 444.10 L399.56 444.44 L401.19 444.78 L402.82 445.11 L404.45 445.44 L406.07 445.77 L407.70 446.09 L409.33 446.41 L410.96 446.72 L412.59 447.03 L414.21 447.34 L415.84 447.64 L417.47 447.94 L419.10 448.23 L420.73 448.52 L422.35 448.80 L423.98 449.08 L425.61 449.36 L427.24 449.63 L428.87 449.89 L430.49 450.15 L432.12 450.41" stroke="#0000ff" stroke-width="1.65" fill="none" stroke-linejoin="round" stroke-linecap="square"/>
<path d="M270.95 324.52 L272.58 326.94 L274.21 331.78 L275.83 341.03 L277.46 350.87 L279.09 358.97 L280.72 366.54 L282.35 368.43 L283.97 374.51 L285.60 376.08 L287.23 380.64 L288.86 382.72 L290.49 385.56 L292.11 384.90 L293.74 388.87 L295.37 393.58 L297.00 393.00 L298.63 396.23 L300.25 396.91 L301.88 397.90 L303.51 399.15 L305.14 398.07 L306.77 399.62 L308.39 401.00 L310.02 400.18 L311.65 400.29 L313.28 404.73 L314.91 403.63 L316.53 405.62 L318.16 405.33 L319.79 407.35 L321.42 405.07 L323.05 407.00 L324.67 407.78 L326.30 406.50 L327.93 408.55 L329.56 409.84 L331.19 410.50 L332.81 408.50 L334.44 410.76 L336.07 407.81 L337.70 408.86 L339.33 413.21 L340.95 410.32 L342.58 412.71 L344.21 411.44 L345.84 411.79 L347.47 415.10 L349.09 412.91 L350.72 413.29 L352.35 411.86 L353.98 415.28 L355.61 412.78 L357.23 415.69 L358.86 414.80 L360.49 411.86 L362.12 406.29 L363.75 414.11 L365.37 411.59 L367.00 414.37 L368.63 408.51 L370.26 414.44 L371.89 416.71 L373.51 416.09 L375.14 414.18 L376.77 416.87 L378.40 416.17 L380.03 416.62 L381.65 415.85 L383.28 417.40 L384.91 417.23 L386.54 416.78 L388.17 417.12 L389.79 418.65 L391.42 416.22 L393.05 419.53 L394.68 419.51 L396.31 419.75 L397.93 416.60 L399.56 417.09 L401.19 415.71 L402.82 420.02 L404.45 417.87 L406.07 420.13 L407.70 420.56 L409.33 417.93 L410.96 414.72 L412.59 419.51 L414.21 419.16 L415.84 419.90 L417.47 419.43 L419.10 417.50 L420.73 420.29 L422.35 421.47 L423.98 422.40 L425.61 420.11 L427.24 420.42 L428.87 419.60 L430.49 420.74 L432.12 420.84" stroke="#ffa500" stroke-width="1.65" fill="none" stroke-linejoin="round" stroke-linecap="square"/>
<path d="M270.95 324.52 L272.58 326.13 L274.21 330.97 L275.83 339.80 L277.46 349.53 L279.09 357.62 L280.72 364.72 L282.35 369.06 L283.97 371.42 L285.60 373.37 L287.23 376.24 L288.86 380.00 L290.49 382.59 L292.11 384.87 L293.74 386.87 L295.37 388.60 L297.00 390.07 L298.63 391.25 L300.25 392.21 L301.88 393.21 L303.51 394.43 L305.14 395.78 L306.77 397.22 L308.39 398.71 L310.02 400.19 L311.65 401.63 L313.28 403.08 L314.91 404.55 L316.53 406.02 L318.16 407.47 L319.79 408.87 L321.42 410.21 L323.05 411.49 L324.67 412.76 L326.30 414.00 L327.93 415.17 L329.56 416.24 L331.19 417.17 L332.81 417.96 L334.44 418.66 L336.07 419.31 L337.70 419.94 L339.33 420.60 L340.95 421.34 L342.58 422.14 L344.21 422.99 L345.84 423.86 L347.47 424.76 L349.09 425.65 L350.72 426.52 L352.35 427.36 L353.98 428.14 L355.61 428.86 L357.23 429.49 L358.86 430.07 L360.49 430.63 L362.12 431.18 L363.75 431.71 L365.37 432.22 L367.00 432.72 L368.63 433.21 L370.26 433.68 L371.89 434.14 L373.51 434.59 L375.14 435.03 L376.77 435.46 L378.40 435.87 L380.03 436.28 L381.65 436.68 L383.28 437.07 L384.91 437.46 L386.54 437.84 L388.17 438.21 L389.79 438.58 L391.42 438.94 L393.05 439.30 L394.68 439.66 L396.31 440.02 L397.93 440.37 L399.56 440.73 L401.19 441.08 L402.82 441.42 L404.45 441.77 L406.07 442.10 L407.70 442.44 L409.33 442.76 L410.96 443.08 L412.59 443.40 L414.21 443.71 L415.84 444.02 L417.47 444.32 L419.10 444.62 L420.73 444.91 L422.35 445.19 L423.98 445.47 L425.61 445.75 L427.24 446.01 L428.87 446.27 L430.49 446.53 L432.12 446.78" stroke="#008000" stroke-width="1.65" fill="none" stroke-linejoin="round" stroke-linecap="square"/>
<path d="M270.95 324.52 L272.58 326.94 L274.21 331.78 L275.83 340.23 L277.46 349.29 L279.09 356.43 L280.72 361.72 L282.35 364.23 L283.97 368.56 L285.60 371.11 L287.23 374.59 L288.86 379.51 L290.49 381.71 L292.11 381.76 L293.74 384.71 L295.37 383.39 L297.00 384.62 L298.63 385.13 L300.25 389.10 L301.88 388.48 L303.51 393.29 L305.14 394.65 L306.77 394.82 L308.39 395.94 L310.02 400.01 L311.65 401.43 L313.28 399.57 L314.91 402.48 L316.53 400.55 L318.16 402.75 L319.79 403.80 L321.42 404.77 L323.05 404.48 L324.67 406.64 L326.30 405.43 L327.93 408.31 L329.56 408.39 L331.19 409.57 L332.81 408.22 L334.44 409.54 L336.07 411.32 L337.70 407.61 L339.33 411.45 L340.95 411.45 L342.58 411.05 L344.21 409.42 L345.84 412.49 L347.47 411.55 L349.09 412.72 L350.72 415.26 L352.35 412.25 L353.98 412.16 L355.61 414.22 L357.23 414.12 L358.86 416.49 L360.49 416.72 L362.12 415.27 L363.75 413.99 L365.37 415.76 L367.00 414.84 L368.63 414.03 L370.26 415.47 L371.89 414.94 L373.51 413.84 L375.14 417.91 L376.77 415.18 L378.40 419.15 L380.03 415.93 L381.65 416.41 L383.28 417.64 L384.91 418.56 L386.54 417.22 L388.17 417.87 L389.79 417.26 L391.42 418.86 L393.05 416.88 L394.68 419.31 L396.31 418.39 L397.93 418.65 L399.56 416.37 L401.19 420.52 L402.82 419.08 L404.45 416.89 L406.07 419.69 L407.70 420.66 L409.33 418.57 L410.96 419.53 L412.59 418.02 L414.21 420.69 L415.84 419.19 L417.47 418.62 L419.10 418.19 L420.73 421.42 L422.35 417.85 L423.98 421.34 L425.61 422.34 L427.24 421.63 L428.87 420.12 L430.49 420.92 L432.12 419.91" stroke="#ff0000" stroke-width="1.65" fill="none" stroke-linejoin="round" stroke-linecap="square"/>
<path d="M270.95 324.52 L272.58 350.33 L274.21 367.92 L275.83 379.39 L277.46 385.71 L279.09 390.30 L280.72 394.33 L282.35 398.13 L283.97 401.48 L285.60 404.40 L287.23 407.00 L288.86 409.38 L290.49 411.60 L292.11 413.78 L293.74 415.93 L295.37 418.00 L297.00 419.88 L298.63 421.50 L300.25 422.99 L301.88 424.42 L303.51 425.80 L305.14 427.12 L306.77 428.39 L308.39 429.61 L310.02 430.79 L311.65 431.93 L313.28 433.03 L314.91 434.09 L316.53 435.13 L318.16 436.13 L319.79 437.11 L321.42 438.06 L323.05 439.00 L324.67 439.92 L326.30 440.83 L327.93 441.73 L329.56 442.63 L331.19 443.51 L332.81 444.39 L334.44 445.25 L336.07 446.09 L337.70 446.92 L339.33 447.72 L340.95 448.51 L342.58 449.27 L344.21 450.01 L345.84 450.72 L347.47 451.40 L349.09 452.05 L350.72 452.67 L352.35 453.25 L353.98 453.79 L355.61 454.30 L357.23 454.77 L358.86 455.20 L360.49 455.62 L362.12 456.03 L363.75 456.41 L365.37 456.78 L367.00 457.14 L368.63 457.49 L370.26 457.82 L371.89 458.14 L373.51 458.45 L375.14 458.75 L376.77 459.04 L378.40 459.33 L380.03 459.61 L381.65 459.88 L383.28 460.15 L384.91 460.41 L386.54 460.68 L388.17 460.93 L389.79 461.19 L391.42 461.45 L393.05 461.71 L394.68 461.97 L396.31 462.22 L397.93 462.47 L399.56 462.72 L401.19 462.97 L402.82 463.21 L404.45 463.45 L406.07 463.69 L407.70 463.92 L409.33 464.15 L410.96 464.38 L412.59 464.60 L414.21 464.82 L415.84 465.04 L417.47 465.25 L419.10 465.46 L420.73 465.66 L422.35 465.86 L423.98 466.05 L425.61 466.24 L427.24 466.43 L428.87 466.61 L430.49 466.78 L432.12 466.95" stroke="#00ffff" stroke-width="1.65" fill="none" stroke-linejoin="round" stroke-linecap="square"/>
<path d="M270.95 324.52 L272.58 350.60 L274.21 367.23 L275.83 377.78 L277.46 385.00 L279.09 390.42 L280.72 393.47 L282.35 395.07 L283.97 399.52 L285.60 401.60 L287.23 401.10 L288.86 402.38 L290.49 403.87 L292.11 406.72 L293.74 406.44 L295.37 406.40 L297.00 410.72 L298.63 410.16 L300.25 413.31 L301.88 413.12 L303.51 414.77 L305.14 412.88 L306.77 415.18 L308.39 413.25 L310.02 413.88 L311.65 414.78 L313.28 418.79 L314.91 415.79 L316.53 415.17 L318.16 415.07 L319.79 417.90 L321.42 416.43 L323.05 417.54 L324.67 417.66 L326.30 415.12 L327.93 418.66 L329.56 417.96 L331.19 417.03 L332.81 419.94 L334.44 419.68 L336.07 419.75 L337.70 420.17 L339.33 422.48 L340.95 420.52 L342.58 418.56 L344.21 423.36 L345.84 419.58 L347.47 420.86 L349.09 422.17 L350.72 417.97 L352.35 420.03 L353.98 423.24 L355.61 421.22 L357.23 420.43 L358.86 421.68 L360.49 420.28 L362.12 421.50 L363.75 420.32 L365.37 419.09 L367.00 422.51 L368.63 421.10 L370.26 422.18 L371.89 421.23 L373.51 423.36 L375.14 422.38 L376.77 421.77 L378.40 420.00 L380.03 419.61 L381.65 423.60 L383.28 422.75 L384.91 420.43 L386.54 424.69 L388.17 422.22 L389.79 421.64 L391.42 419.46 L393.05 420.38 L394.68 422.03 L396.31 422.10 L397.93 421.92 L399.56 419.06 L401.19 422.22 L402.82 422.03 L404.45 420.98 L406.07 421.75 L407.70 421.89 L409.33 423.38 L410.96 421.61 L412.59 422.32 L414.21 419.73 L415.84 420.57 L417.47 421.68 L419.10 420.57 L420.73 422.21 L422.35 419.98 L423.98 421.70 L425.61 420.76 L427.24 423.80 L428.87 421.17 L430.49 424.47 L432.12 425.05" stroke="#ff00ff" stroke-width="1.65" fill="none" stroke-linejoin="round" stroke-linecap="square"/>
<path d="M270.95 324.52 L272.58 350.60 L274.21 367.32 L275.83 377.78 L277.46 384.21 L279.09 389.03 L280.72 392.62 L282.35 395.22 L283.97 397.34 L285.60 399.63 L287.23 401.96 L288.86 404.29 L290.49 406.67 L292.11 409.16 L293.74 411.90 L295.37 415.13 L297.00 418.17 L298.63 420.27 L300.25 421.94 L301.88 423.51 L303.51 424.99 L305.14 426.38 L306.77 427.69 L308.39 428.92 L310.02 430.08 L311.65 431.18 L313.28 432.22 L314.91 433.21 L316.53 434.16 L318.16 435.06 L319.79 435.93 L321.42 436.77 L323.05 437.58 L324.67 438.39 L326.30 439.17 L327.93 439.96 L329.56 440.74 L331.19 441.54 L332.81 442.34 L334.44 443.15 L336.07 443.96 L337.70 444.76 L339.33 445.54 L340.95 446.32 L342.58 447.07 L344.21 447.80 L345.84 448.50 L347.47 449.18 L349.09 449.82 L350.72 450.43 L352.35 451.00 L353.98 451.52 L355.61 452.00 L357.23 452.43 L358.86 452.82 L360.49 453.20 L362.12 453.57 L363.75 453.92 L365.37 454.26 L367.00 454.59 L368.63 454.91 L370.26 455.21 L371.89 455.50 L373.51 455.79 L375.14 456.06 L376.77 456.32 L378.40 456.57 L380.03 456.82 L381.65 457.05 L383.28 457.28 L384.91 457.49 L386.54 457.70 L388.17 457.91 L389.79 458.11 L391.42 458.30 L393.05 458.48 L394.68 458.66 L396.31 458.84 L397.93 459.02 L399.56 459.19 L401.19 459.36 L402.82 459.53 L404.45 459.69 L406.07 459.85 L407.70 460.01 L409.33 460.16 L410.96 460.31 L412.59 460.46 L414.21 460.59 L415.84 460.73 L417.47 460.85 L419.10 460.98 L420.73 461.09 L422.35 461.20 L423.98 461.30 L425.61 461.40 L427.24 461.49 L428.87 461.57 L430.49 461.64 L432.12 461.71" stroke="#00ff00" stroke-width="1.65" fill="none" stroke-linejoin="round" stroke-linecap="square"/>
<path d="M270.95 324.52 L272.58 351.79 L274.21 369.42 L275.83 380.20 L277.46 385.85 L279.09 388.82 L280.72 392.29 L282.35 393.11 L283.97 394.94 L285.60 396.28 L287.23 399.58 L288.86 403.17 L290.49 404.06 L292.11 404.97 L293.74 409.45 L295.37 408.73 L297.00 410.64 L298.63 409.34 L300.25 413.43 L301.88 413.41 L303.51 413.23 L305.14 414.22 L306.77 417.91 L308.39 416.01 L310.02 417.73 L311.65 418.89 L313.28 419.66 L314.91 419.87 L316.53 423.40 L318.16 418.83 L319.79 422.56 L321.42 424.77 L323.05 421.82 L324.67 419.75 L326.30 422.75 L327.93 419.84 L329.56 419.89 L331.19 423.42 L332.81 425.75 L334.44 423.96 L336.07 420.44 L337.70 423.35 L339.33 424.36 L340.95 424.11 L342.58 422.20 L344.21 422.28 L345.84 421.05 L347.47 420.95 L349.09 423.83 L350.72 422.80 L352.35 424.32 L353.98 422.67 L355.61 424.55 L357.23 424.72 L358.86 419.99 L360.49 423.13 L362.12 422.37 L363.75 419.75 L365.37 422.44 L367.00 423.90 L368.63 423.81 L370.26 425.13 L371.89 422.62 L373.51 424.86 L375.14 421.99 L376.77 425.22 L378.40 425.39 L380.03 425.65 L381.65 424.29 L383.28 425.08 L384.91 423.50 L386.54 426.43 L388.17 425.33 L389.79 423.05 L391.42 426.31 L393.05 425.27 L394.68 423.83 L396.31 425.35 L397.93 427.11 L399.56 429.20 L401.19 422.72 L402.82 425.57 L404.45 424.37 L406.07 426.89 L407.70 423.56 L409.33 425.45 L410.96 426.13 L412.59 427.51 L414.21 425.67 L415.84 426.91 L417.47 426.52 L419.10 428.56 L420.73 426.91 L422.35 425.97 L423.98 428.02 L425.61 426.09 L427.24 425.24 L428.87 426.65 L430.49 427.10 L432.12 427.10" stroke="#800080" stroke-width="1.65" fill="none" stroke-linejoin="round" stroke-linecap="square"/>
</g>
<rect x="266.6" y="423.4" width="90.4" height="80.0" rx="1.8" fill="#fff" fill-opacity="0.8" stroke="#d0d0d0" stroke-width="0.8"/>
<path d="M268.60 429.20H281.60" stroke="#0000ff" stroke-width="1.75"/>
<text x="286.50" y="431.65" font-size="7.5" text-anchor="start" fill="#262626" font-family='"Liberation Sans", sans-serif' font-weight="normal" textLength="7.43" lengthAdjust="spacingAndGlyphs" stroke="#262626" stroke-width="0.14">TL</text>
<path d="M268.60 438.91H281.60" stroke="#ffa500" stroke-width="1.75"/>
<text x="286.50" y="441.36" font-size="7.5" text-anchor="start" fill="#262626" font-family='"Liberation Sans", sans-serif' font-weight="normal" textLength="7.89" lengthAdjust="spacingAndGlyphs" stroke="#262626" stroke-width="0.14">VL</text>
<path d="M268.60 448.62H281.60" stroke="#008000" stroke-width="1.75"/>
<text x="286.50" y="451.07" font-size="7.5" text-anchor="start" fill="#262626" font-family='"Liberation Sans", sans-serif' font-weight="normal" textLength="59.79" lengthAdjust="spacingAndGlyphs" stroke="#262626" stroke-width="0.14">TL original+frMask</text>
<path d="M268.60 458.33H281.60" stroke="#ff0000" stroke-width="1.75"/>
<text x="286.50" y="460.78" font-size="7.5" text-anchor="start" fill="#262626" font-family='"Liberation Sans", sans-serif' font-weight="normal" textLength="60.25" lengthAdjust="spacingAndGlyphs" stroke="#262626" stroke-width="0.14">VL original+frMask</text>
<path d="M268.60 468.04H281.60" stroke="#00ffff" stroke-width="1.75"/>
<text x="286.50" y="470.49" font-size="7.5" text-anchor="start" fill="#262626" font-family='"Liberation Sans", sans-serif' font-weight="normal" textLength="54.57" lengthAdjust="spacingAndGlyphs" stroke="#262626" stroke-width="0.14">TL original+frMel</text>
<path d="M268.60 477.75H281.60" stroke="#ff00ff" stroke-width="1.75"/>
<text x="286.50" y="480.20" font-size="7.5" text-anchor="start" fill="#262626" font-family='"Liberation Sans", sans-serif' font-weight="normal" textLength="55.04" lengthAdjust="spacingAndGlyphs" stroke="#262626" stroke-width="0.14">VL original+frMel</text>
<path d="M268.60 487.46H281.60" stroke="#00ff00" stroke-width="1.75"/>
<text x="286.50" y="489.91" font-size="7.5" text-anchor="start" fill="#262626" font-family='"Liberation Sans", sans-serif' font-weight="normal" textLength="67.66" lengthAdjust="spacingAndGlyphs" stroke="#262626" stroke-width="0.14">TL 3xfrMask+3xfrMel</text>
<path d="M268.60 497.17H281.60" stroke="#800080" stroke-width="1.75"/>
<text x="286.50" y="499.62" font-size="7.5" text-anchor="start" fill="#262626" font-family='"Liberation Sans", sans-serif' font-weight="normal" textLength="68.12" lengthAdjust="spacingAndGlyphs" stroke="#262626" stroke-width="0.14">VL 3xfrMask+3xfrMel</text>
<rect x="263.0" y="305.15" width="177.3" height="201.75" fill="none" stroke="#454545" stroke-width="1.05"/>
<path d="M260.40 506.90H263.00" stroke="#454545" stroke-width="0.9"/>
<text x="256.10" y="508.90" font-size="6.5" text-anchor="end" fill="#262626" font-family='"Liberation Sans", sans-serif' font-weight="normal" textLength="8.43" lengthAdjust="spacingAndGlyphs" stroke="#262626" stroke-width="0.1">0.0</text>
<path d="M260.40 466.55H263.00" stroke="#454545" stroke-width="0.9"/>
<text x="256.10" y="468.55" font-size="6.5" text-anchor="end" fill="#262626" font-family='"Liberation Sans", sans-serif' font-weight="normal" textLength="8.43" lengthAdjust="spacingAndGlyphs" stroke="#262626" stroke-width="0.1">0.5</text>
<path d="M260.40 426.20H263.00" stroke="#454545" stroke-width="0.9"/>
<text x="256.10" y="428.20" font-size="6.5" text-anchor="end" fill="#262626" font-family='"Liberation Sans", sans-serif' font-weight="normal" textLength="8.43" lengthAdjust="spacingAndGlyphs" stroke="#262626" stroke-width="0.1">1.0</text>
<path d="M260.40 385.85H263.00" stroke="#454545" stroke-width="0.9"/>
<text x="256.10" y="387.85" font-size="6.5" text-anchor="end" fill="#262626" font-family='"Liberation Sans", sans-serif' font-weight="normal" textLength="8.43" lengthAdjust="spacingAndGlyphs" stroke="#262626" stroke-width="0.1">1.5</text>
<path d="M260.40 345.50H263.00" stroke="#454545" stroke-width="0.9"/>
<text x="256.10" y="347.50" font-size="6.5" text-anchor="end" fill="#262626" font-family='"Liberation Sans", sans-serif' font-weight="normal" textLength="8.43" lengthAdjust="spacingAndGlyphs" stroke="#262626" stroke-width="0.1">2.0</text>
<path d="M260.40 305.15H263.00" stroke="#454545" stroke-width="0.9"/>
<text x="256.10" y="307.15" font-size="6.5" text-anchor="end" fill="#262626" font-family='"Liberation Sans", sans-serif' font-weight="normal" textLength="8.43" lengthAdjust="spacingAndGlyphs" stroke="#262626" stroke-width="0.1">2.5</text>
<path d="M270.95 506.90V509.50" stroke="#454545" stroke-width="0.9"/>
<text x="270.95" y="517.60" font-size="6.5" text-anchor="middle" fill="#262626" font-family='"Liberation Sans", sans-serif' font-weight="normal" textLength="3.37" lengthAdjust="spacingAndGlyphs" stroke="#262626" stroke-width="0.1">0</text>
<path d="M287.23 506.90V509.50" stroke="#454545" stroke-width="0.9"/>
<text x="287.23" y="517.60" font-size="6.5" text-anchor="middle" fill="#262626" font-family='"Liberation Sans", sans-serif' font-weight="normal" textLength="6.74" lengthAdjust="spacingAndGlyphs" stroke="#262626" stroke-width="0.1">10</text>
<text x="287.63" y="517.60" font-size="6.5" text-anchor="middle" fill="#262626" font-family='"Liberation Sans", sans-serif' font-weight="normal" textLength="6.74" lengthAdjust="spacingAndGlyphs" stroke="#262626" stroke-width="0.1">10</text>
<path d="M303.51 506.90V509.50" stroke="#454545" stroke-width="0.9"/>
<text x="303.51" y="517.60" font-size="6.5" text-anchor="middle" fill="#262626" font-family='"Liberation Sans", sans-serif' font-weight="normal" textLength="6.74" lengthAdjust="spacingAndGlyphs" stroke="#262626" stroke-width="0.1">20</text>
<path d="M319.79 506.90V509.50" stroke="#454545" stroke-width="0.9"/>
<text x="319.79" y="517.60" font-size="6.5" text-anchor="middle" fill="#262626" font-family='"Liberation Sans", sans-serif' font-weight="normal" textLength="6.74" lengthAdjust="spacingAndGlyphs" stroke="#262626" stroke-width="0.1">30</text>
<path d="M336.07 506.90V509.50" stroke="#454545" stroke-width="0.9"/>
<text x="336.07" y="517.60" font-size="6.5" text-anchor="middle" fill="#262626" font-family='"Liberation Sans", sans-serif' font-weight="normal" textLength="6.74" lengthAdjust="spacingAndGlyphs" stroke="#262626" stroke-width="0.1">40</text>
<path d="M352.35 506.90V509.50" stroke="#454545" stroke-width="0.9"/>
<text x="352.35" y="517.60" font-size="6.5" text-anchor="middle" fill="#262626" font-family='"Liberation Sans", sans-serif' font-weight="normal" textLength="6.74" lengthAdjust="spacingAndGlyphs" stroke="#262626" stroke-width="0.1">50</text>
<path d="M368.63 506.90V509.50" stroke="#454545" stroke-width="0.9"/>
<text x="368.63" y="517.60" font-size="6.5" text-anchor="middle" fill="#262626" font-family='"Liberation Sans", sans-serif' font-weight="normal" textLength="6.74" lengthAdjust="spacingAndGlyphs" stroke="#262626" stroke-width="0.1">60</text>
<path d="M384.91 506.90V509.50" stroke="#454545" stroke-width="0.9"/>
<text x="384.91" y="517.60" font-size="6.5" text-anchor="middle" fill="#262626" font-family='"Liberation Sans", sans-serif' font-weight="normal" textLength="6.74" lengthAdjust="spacingAndGlyphs" stroke="#262626" stroke-width="0.1">70</text>
<path d="M401.19 506.90V509.50" stroke="#454545" stroke-width="0.9"/>
<text x="401.19" y="517.60" font-size="6.5" text-anchor="middle" fill="#262626" font-family='"Liberation Sans", sans-serif' font-weight="normal" textLength="6.74" lengthAdjust="spacingAndGlyphs" stroke="#262626" stroke-width="0.1">80</text>
<path d="M417.47 506.90V509.50" stroke="#454545" stroke-width="0.9"/>
<text x="417.47" y="517.60" font-size="6.5" text-anchor="middle" fill="#262626" font-family='"Liberation Sans", sans-serif' font-weight="normal" textLength="6.74" lengthAdjust="spacingAndGlyphs" stroke="#262626" stroke-width="0.1">90</text>
<text x="352.04" y="527.20" font-size="6.5" text-anchor="middle" fill="#262626" font-family='"Liberation Sans", sans-serif' font-weight="normal" textLength="18.99" lengthAdjust="spacingAndGlyphs" stroke="#262626" stroke-width="0.1">Epochs</text>
<text x="110.0" y="271.5" font-size="10" text-anchor="middle" fill="#111" font-family='"Liberation Serif", serif'>(<tspan font-weight="bold">a</tspan>)</text>
<text x="348.0" y="271.5" font-size="10" text-anchor="middle" fill="#111" font-family='"Liberation Serif", serif'>(<tspan font-weight="bold">b</tspan>)</text>
<text x="110.0" y="546.0" font-size="10" text-anchor="middle" fill="#111" font-family='"Liberation Serif", serif'>(<tspan font-weight="bold">c</tspan>)</text>
<text x="348.0" y="546.0" font-size="10" text-anchor="middle" fill="#111" font-family='"Liberation Serif", serif'>(<tspan font-weight="bold">d</tspan>)</text>
</svg>
</body></html>
